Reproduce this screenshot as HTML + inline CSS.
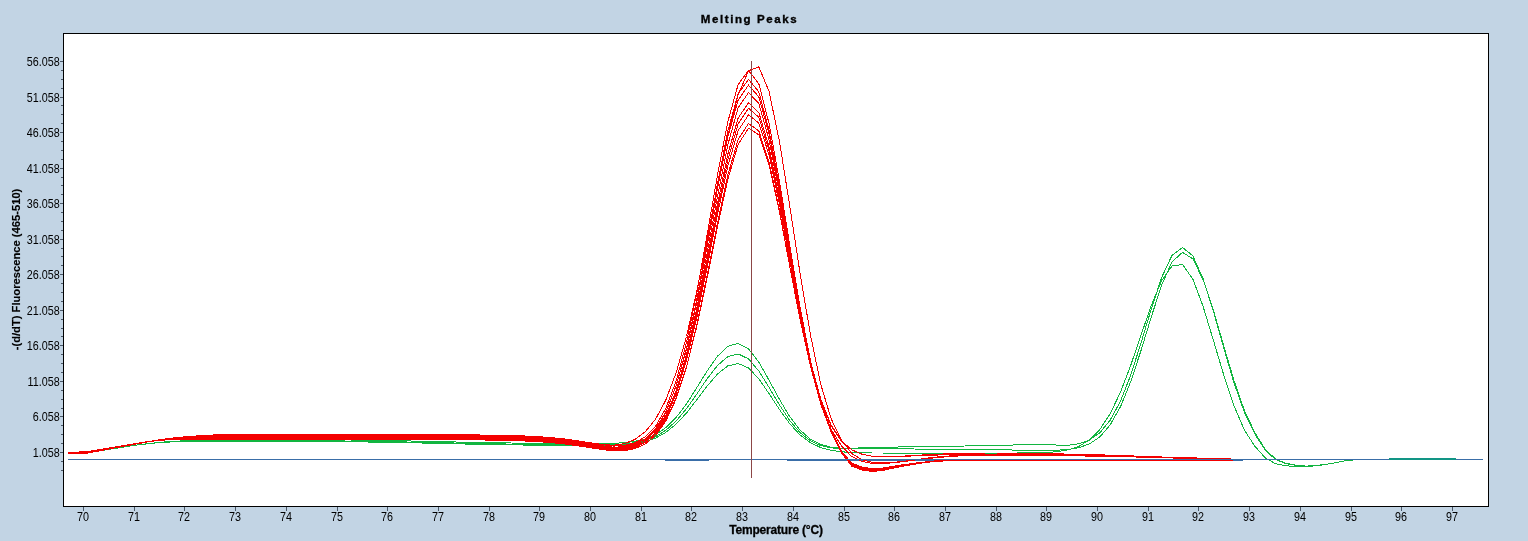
<!DOCTYPE html>
<html><head><meta charset="utf-8"><title>Melting Peaks</title>
<style>
html,body{margin:0;padding:0;background:#c2d4e4;width:1528px;height:541px;overflow:hidden;}
svg{display:block;will-change:transform;}
.t{font-family:"Liberation Sans",Arial,sans-serif;font-size:11px;fill:#000;}
.title{font-family:"Liberation Sans",Arial,sans-serif;font-size:11.5px;font-weight:bold;letter-spacing:1.6px;fill:#000;stroke:#000;stroke-width:0.35px;}
.axt{font-family:"Liberation Sans",Arial,sans-serif;font-size:12px;letter-spacing:-0.2px;font-weight:bold;fill:#000;stroke:#000;stroke-width:0.3px;}
.ayt{font-family:"Liberation Sans",Arial,sans-serif;font-size:11.2px;font-weight:bold;fill:#000;stroke:#000;stroke-width:0.15px;}
</style></head>
<body>
<svg width="1528" height="541" viewBox="0 0 1528 541">
<rect x="63.5" y="33.5" width="1425" height="473" fill="#ffffff" stroke="#000000" stroke-width="1"/>
<g shape-rendering="crispEdges">
<line x1="60" y1="61.5" x2="63" y2="61.5" stroke="#4a5868"/>
<line x1="61" y1="70.5" x2="63" y2="70.5" stroke="#4a5868"/>
<line x1="61" y1="79.5" x2="63" y2="79.5" stroke="#4a5868"/>
<line x1="61" y1="88.5" x2="63" y2="88.5" stroke="#4a5868"/>
<line x1="60" y1="97.5" x2="63" y2="97.5" stroke="#4a5868"/>
<line x1="61" y1="105.5" x2="63" y2="105.5" stroke="#4a5868"/>
<line x1="61" y1="114.5" x2="63" y2="114.5" stroke="#4a5868"/>
<line x1="61" y1="123.5" x2="63" y2="123.5" stroke="#4a5868"/>
<line x1="60" y1="132.5" x2="63" y2="132.5" stroke="#4a5868"/>
<line x1="61" y1="141.5" x2="63" y2="141.5" stroke="#4a5868"/>
<line x1="61" y1="150.5" x2="63" y2="150.5" stroke="#4a5868"/>
<line x1="61" y1="159.5" x2="63" y2="159.5" stroke="#4a5868"/>
<line x1="60" y1="168.5" x2="63" y2="168.5" stroke="#4a5868"/>
<line x1="61" y1="177.5" x2="63" y2="177.5" stroke="#4a5868"/>
<line x1="61" y1="185.5" x2="63" y2="185.5" stroke="#4a5868"/>
<line x1="61" y1="194.5" x2="63" y2="194.5" stroke="#4a5868"/>
<line x1="60" y1="203.5" x2="63" y2="203.5" stroke="#4a5868"/>
<line x1="61" y1="212.5" x2="63" y2="212.5" stroke="#4a5868"/>
<line x1="61" y1="221.5" x2="63" y2="221.5" stroke="#4a5868"/>
<line x1="61" y1="230.5" x2="63" y2="230.5" stroke="#4a5868"/>
<line x1="60" y1="239.5" x2="63" y2="239.5" stroke="#4a5868"/>
<line x1="61" y1="248.5" x2="63" y2="248.5" stroke="#4a5868"/>
<line x1="61" y1="256.5" x2="63" y2="256.5" stroke="#4a5868"/>
<line x1="61" y1="265.5" x2="63" y2="265.5" stroke="#4a5868"/>
<line x1="60" y1="274.5" x2="63" y2="274.5" stroke="#4a5868"/>
<line x1="61" y1="283.5" x2="63" y2="283.5" stroke="#4a5868"/>
<line x1="61" y1="292.5" x2="63" y2="292.5" stroke="#4a5868"/>
<line x1="61" y1="301.5" x2="63" y2="301.5" stroke="#4a5868"/>
<line x1="60" y1="310.5" x2="63" y2="310.5" stroke="#4a5868"/>
<line x1="61" y1="319.5" x2="63" y2="319.5" stroke="#4a5868"/>
<line x1="61" y1="328.5" x2="63" y2="328.5" stroke="#4a5868"/>
<line x1="61" y1="336.5" x2="63" y2="336.5" stroke="#4a5868"/>
<line x1="60" y1="345.5" x2="63" y2="345.5" stroke="#4a5868"/>
<line x1="61" y1="354.5" x2="63" y2="354.5" stroke="#4a5868"/>
<line x1="61" y1="363.5" x2="63" y2="363.5" stroke="#4a5868"/>
<line x1="61" y1="372.5" x2="63" y2="372.5" stroke="#4a5868"/>
<line x1="60" y1="381.5" x2="63" y2="381.5" stroke="#4a5868"/>
<line x1="61" y1="390.5" x2="63" y2="390.5" stroke="#4a5868"/>
<line x1="61" y1="399.5" x2="63" y2="399.5" stroke="#4a5868"/>
<line x1="61" y1="408.5" x2="63" y2="408.5" stroke="#4a5868"/>
<line x1="60" y1="416.5" x2="63" y2="416.5" stroke="#4a5868"/>
<line x1="61" y1="425.5" x2="63" y2="425.5" stroke="#4a5868"/>
<line x1="61" y1="434.5" x2="63" y2="434.5" stroke="#4a5868"/>
<line x1="61" y1="443.5" x2="63" y2="443.5" stroke="#4a5868"/>
<line x1="60" y1="452.5" x2="63" y2="452.5" stroke="#4a5868"/>
<line x1="61" y1="461.5" x2="63" y2="461.5" stroke="#4a5868"/>
<line x1="61" y1="470.5" x2="63" y2="470.5" stroke="#4a5868"/>
<line x1="83.5" y1="507" x2="83.5" y2="511" stroke="#4a5868"/>
<line x1="134.5" y1="507" x2="134.5" y2="511" stroke="#4a5868"/>
<line x1="184.5" y1="507" x2="184.5" y2="511" stroke="#4a5868"/>
<line x1="235.5" y1="507" x2="235.5" y2="511" stroke="#4a5868"/>
<line x1="286.5" y1="507" x2="286.5" y2="511" stroke="#4a5868"/>
<line x1="337.5" y1="507" x2="337.5" y2="511" stroke="#4a5868"/>
<line x1="387.5" y1="507" x2="387.5" y2="511" stroke="#4a5868"/>
<line x1="438.5" y1="507" x2="438.5" y2="511" stroke="#4a5868"/>
<line x1="489.5" y1="507" x2="489.5" y2="511" stroke="#4a5868"/>
<line x1="539.5" y1="507" x2="539.5" y2="511" stroke="#4a5868"/>
<line x1="590.5" y1="507" x2="590.5" y2="511" stroke="#4a5868"/>
<line x1="641.5" y1="507" x2="641.5" y2="511" stroke="#4a5868"/>
<line x1="691.5" y1="507" x2="691.5" y2="511" stroke="#4a5868"/>
<line x1="742.5" y1="507" x2="742.5" y2="511" stroke="#4a5868"/>
<line x1="793.5" y1="507" x2="793.5" y2="511" stroke="#4a5868"/>
<line x1="844.5" y1="507" x2="844.5" y2="511" stroke="#4a5868"/>
<line x1="894.5" y1="507" x2="894.5" y2="511" stroke="#4a5868"/>
<line x1="945.5" y1="507" x2="945.5" y2="511" stroke="#4a5868"/>
<line x1="996.5" y1="507" x2="996.5" y2="511" stroke="#4a5868"/>
<line x1="1046.5" y1="507" x2="1046.5" y2="511" stroke="#4a5868"/>
<line x1="1097.5" y1="507" x2="1097.5" y2="511" stroke="#4a5868"/>
<line x1="1148.5" y1="507" x2="1148.5" y2="511" stroke="#4a5868"/>
<line x1="1198.5" y1="507" x2="1198.5" y2="511" stroke="#4a5868"/>
<line x1="1249.5" y1="507" x2="1249.5" y2="511" stroke="#4a5868"/>
<line x1="1300.5" y1="507" x2="1300.5" y2="511" stroke="#4a5868"/>
<line x1="1351.5" y1="507" x2="1351.5" y2="511" stroke="#4a5868"/>
<line x1="1401.5" y1="507" x2="1401.5" y2="511" stroke="#4a5868"/>
<line x1="1452.5" y1="507" x2="1452.5" y2="511" stroke="#4a5868"/>
</g>
<g shape-rendering="crispEdges" stroke-linejoin="miter">
<line x1="68" y1="459.5" x2="1483" y2="459.5" stroke="#3a6ea8"/>
<line x1="665" y1="460.5" x2="709" y2="460.5" stroke="#3a6ea8"/>
<line x1="787" y1="460.5" x2="1243" y2="460.5" stroke="#3a6ea8"/>
<line x1="1354" y1="459.5" x2="1366" y2="459.5" stroke="#12b540"/>
<rect x="1389" y="458" width="67" height="2" fill="#108a78"/>
<polyline points="67.8,453.0 76.8,452.8 87.1,452.4 97.5,451.1 107.8,449.6 118.1,447.9 128.5,446.3 138.8,444.8 149.1,443.5 159.5,442.4 169.8,441.5 180.1,441.0 190.5,440.5 200.8,440.2 211.1,439.9 221.5,439.7 231.8,439.5 242.1,439.5 252.5,439.5 262.8,439.5 273.1,439.5 283.5,439.5 293.8,439.5 304.1,439.6 314.5,439.6 324.8,439.7 335.1,439.8 345.5,439.9 355.8,440.1 366.1,440.2 376.5,440.4 386.8,440.5 397.1,440.7 407.5,440.9 417.8,441.2 428.1,441.4 438.5,441.6 448.8,441.8 459.1,442.1 469.5,442.3 479.8,442.5 490.1,442.7 500.5,442.9 510.8,443.0 521.1,443.2 531.5,443.3 541.8,443.4 552.1,443.5 562.5,443.6 572.8,443.7 583.1,443.7 593.5,443.7 603.8,443.6 614.1,443.3 624.5,442.7 634.8,441.4 645.1,439.0 655.5,434.7 665.8,427.7 676.1,417.5 686.5,403.9 696.8,387.7 707.1,371.0 717.5,356.2 727.8,346.3 738.1,343.4 748.5,348.8 758.8,362.1 769.1,380.3 779.5,399.5 789.8,416.7 800.1,430.1 810.5,439.2 820.8,444.5 831.1,447.2 841.5,448.3 851.8,448.3 862.1,447.8 872.5,447.5 882.8,447.3 893.1,447.1 903.5,446.9 913.8,446.7 924.1,446.5 934.5,446.4 944.8,446.2 955.1,446.1 965.5,446.0 975.8,445.9 986.1,445.7 996.5,445.5 1006.8,445.2 1017.1,444.9 1027.5,444.6 1037.8,444.4 1048.1,444.7 1058.5,445.1 1068.8,445.2 1079.1,443.7 1089.5,440.0 1099.8,432.8 1110.1,420.3 1120.5,401.2 1130.8,374.9 1141.1,342.7 1151.5,308.3 1161.8,277.1 1172.1,255.2 1182.5,247.4 1192.8,255.8 1203.1,278.8 1213.5,311.6 1223.8,348.1 1234.1,383.1 1244.5,412.5 1254.8,433.9 1265.1,450.0 1275.5,459.5 1285.8,463.5 1296.1,465.5 1306.5,466.2 1316.8,465.5 1327.2,464.1 1337.5,462.4 1347.8,460.3 1358.2,459.7" fill="none" stroke="#12b540" stroke-width="1"/>
<polyline points="67.8,453.0 76.8,452.8 87.1,452.4 97.5,451.1 107.8,449.6 118.1,447.9 128.5,446.3 138.8,444.8 149.1,443.6 159.5,442.5 169.8,441.8 180.1,441.4 190.5,441.1 200.8,440.9 211.1,440.8 221.5,440.6 231.8,440.6 242.1,440.6 252.5,440.6 262.8,440.6 273.1,440.6 283.5,440.6 293.8,440.6 304.1,440.6 314.5,440.7 324.8,440.8 335.1,440.9 345.5,441.0 355.8,441.1 366.1,441.3 376.5,441.4 386.8,441.6 397.1,441.8 407.5,442.0 417.8,442.2 428.1,442.5 438.5,442.7 448.8,442.9 459.1,443.1 469.5,443.4 479.8,443.6 490.1,443.8 500.5,443.9 510.8,444.1 521.1,444.3 531.5,444.4 541.8,444.5 552.1,444.6 562.5,444.7 572.8,444.8 583.1,444.8 593.5,444.8 603.8,444.7 614.1,444.4 624.5,443.9 634.8,442.7 645.1,440.5 655.5,436.6 665.8,430.3 676.1,421.0 686.5,408.7 696.8,394.0 707.1,378.8 717.5,365.5 727.8,356.6 738.1,353.9 748.5,358.9 758.8,371.0 769.1,387.5 779.5,404.9 789.8,420.6 800.1,432.7 810.5,440.9 820.8,445.6 831.1,447.8 841.5,448.8 851.8,448.8 862.1,448.7 872.5,448.7 882.8,448.8 893.1,448.8 903.5,448.9 913.8,449.0 924.1,449.1 934.5,449.2 944.8,449.3 955.1,449.4 965.5,449.5 975.8,449.6 986.1,449.7 996.5,449.8 1006.8,449.9 1017.1,450.1 1027.5,450.2 1037.8,450.3 1048.1,450.3 1058.5,450.1 1068.8,449.4 1079.1,447.6 1089.5,443.9 1099.8,436.9 1110.1,425.0 1120.5,406.7 1130.8,381.4 1141.1,350.2 1151.5,316.2 1161.8,284.7 1172.1,261.7 1182.5,252.4 1192.8,258.8 1203.1,279.7 1213.5,310.8 1223.8,346.1 1234.1,380.9 1244.5,410.8 1254.8,432.6 1265.1,449.2 1275.5,459.0 1285.8,463.3 1296.1,465.3 1306.5,466.1 1316.8,465.5 1327.2,464.1 1337.5,462.4 1347.8,460.3 1358.2,459.7" fill="none" stroke="#12b540" stroke-width="1"/>
<polyline points="67.8,453.0 76.8,452.8 87.1,452.4 97.5,451.1 107.8,449.6 118.1,447.9 128.5,446.3 138.8,444.8 149.1,443.6 159.5,442.6 169.8,442.0 180.1,441.7 190.5,441.5 200.8,441.4 211.1,441.3 221.5,441.3 231.8,441.3 242.1,441.3 252.5,441.3 262.8,441.3 273.1,441.3 283.5,441.3 293.8,441.3 304.1,441.3 314.5,441.4 324.8,441.5 335.1,441.6 345.5,441.7 355.8,441.8 366.1,442.0 376.5,442.1 386.8,442.3 397.1,442.5 407.5,442.7 417.8,442.9 428.1,443.2 438.5,443.4 448.8,443.6 459.1,443.9 469.5,444.1 479.8,444.3 490.1,444.5 500.5,444.7 510.8,444.8 521.1,445.0 531.5,445.1 541.8,445.2 552.1,445.3 562.5,445.4 572.8,445.5 583.1,445.5 593.5,445.5 603.8,445.4 614.1,445.2 624.5,444.7 634.8,443.6 645.1,441.6 655.5,438.1 665.8,432.4 676.1,424.1 686.5,413.0 696.8,399.7 707.1,386.1 717.5,374.0 727.8,365.9 738.1,363.5 748.5,367.9 758.8,378.8 769.1,393.7 779.5,409.6 789.8,423.8 800.1,435.0 810.5,442.7 820.8,447.6 831.1,450.4 841.5,451.8 851.8,452.5 862.1,452.8 872.5,453.0 882.8,453.0 893.1,453.0 903.5,453.0 913.8,453.0 924.1,453.0 934.5,453.0 944.8,453.0 955.1,453.0 965.5,453.0 975.8,453.0 986.1,453.0 996.5,453.0 1006.8,453.0 1017.1,453.0 1027.5,452.9 1037.8,452.8 1048.1,452.4 1058.5,451.5 1068.8,449.7 1079.1,446.2 1089.5,439.9 1099.8,429.6 1110.1,413.8 1120.5,392.2 1130.8,365.1 1141.1,334.8 1151.5,304.9 1161.8,280.4 1172.1,265.9 1182.5,264.5 1192.8,279.0 1203.1,306.4 1213.5,340.7 1223.8,375.2 1234.1,406.1 1244.5,430.3 1254.8,446.2 1265.1,457.7 1275.5,463.8 1285.8,465.8 1296.1,466.5 1306.5,466.6 1316.8,465.7 1327.2,464.2 1337.5,462.4 1347.8,460.3 1358.2,459.7" fill="none" stroke="#12b540" stroke-width="1"/>
<polyline points="67.8,452.3 76.8,452.1 87.1,451.7 97.5,450.0 107.8,448.3 118.1,446.5 128.5,444.8 138.8,443.1 149.1,441.4 159.5,439.8 169.8,438.6 180.1,437.6 190.5,436.8 200.8,436.2 211.1,435.7 221.5,435.4 231.8,435.1 242.1,435.0 252.5,435.0 262.8,434.9 273.1,434.9 283.5,434.9 293.8,434.9 304.1,434.9 314.5,434.9 324.8,434.9 335.1,434.9 345.5,434.9 355.8,434.9 366.1,435.0 376.5,435.0 386.8,435.1 397.1,435.1 407.5,435.2 417.8,435.2 428.1,435.3 438.5,435.4 448.8,435.4 459.1,435.5 469.5,435.6 479.8,435.7 490.1,435.8 500.5,436.0 510.8,436.2 521.1,436.6 531.5,437.0 541.8,437.6 552.1,438.4 562.5,439.4 572.8,440.8 583.1,442.2 593.5,443.6 603.8,444.7 614.1,445.2 624.5,443.6 634.8,439.5 645.1,431.9 655.5,419.3 665.8,400.1 676.1,372.8 686.5,336.5 696.8,291.3 707.1,239.7 717.5,185.7 727.8,135.3 738.1,95.0 748.5,70.8 758.8,66.9 769.1,91.6 779.5,141.7 789.8,206.2 800.1,273.6 810.5,335.1 820.8,384.5 831.1,418.7 841.5,440.2 851.8,453.5 862.1,459.8 872.5,462.5 882.8,462.9 893.1,462.4 903.5,461.3 913.8,459.9 924.1,458.6 934.5,457.2 944.8,456.3 955.1,455.5 965.5,454.9 975.8,454.7 986.1,454.6 996.5,454.5 1006.8,454.4 1017.1,454.4 1027.5,454.4 1037.8,454.5 1048.1,454.6 1058.5,454.8 1068.8,454.9 1079.1,455.1 1089.5,455.3 1099.8,455.5 1110.1,455.8 1120.5,456.0 1130.8,456.3 1141.1,456.6 1151.5,456.9 1161.8,457.1 1172.1,457.4 1182.5,457.7 1192.8,457.9 1203.1,458.2 1213.5,458.5 1223.8,458.8 1234.1,459.1 1244.5,459.3" fill="none" stroke="#f40000" stroke-width="1"/>
<polyline points="67.8,452.6 76.8,452.5 87.1,452.0 97.5,450.3 107.8,448.5 118.1,446.7 128.5,445.0 138.8,443.2 149.1,441.5 159.5,439.8 169.8,438.5 180.1,437.5 190.5,436.6 200.8,435.9 211.1,435.4 221.5,435.0 231.8,434.8 242.1,434.7 252.5,434.6 262.8,434.6 273.1,434.5 283.5,434.5 293.8,434.5 304.1,434.5 314.5,434.5 324.8,434.5 335.1,434.5 345.5,434.5 355.8,434.6 366.1,434.6 376.5,434.7 386.8,434.7 397.1,434.8 407.5,434.8 417.8,434.9 428.1,434.9 438.5,435.0 448.8,435.1 459.1,435.2 469.5,435.2 479.8,435.3 490.1,435.5 500.5,435.6 510.8,435.9 521.1,436.2 531.5,436.7 541.8,437.3 552.1,438.0 562.5,439.0 572.8,440.5 583.1,442.0 593.5,443.6 603.8,444.9 614.1,446.1 624.5,445.4 634.8,442.7 645.1,437.0 655.5,426.3 665.8,408.4 676.1,381.1 686.5,342.5 696.8,292.8 707.1,234.9 717.5,175.0 727.8,121.8 738.1,84.6 748.5,70.4 758.8,83.7 769.1,123.7 779.5,181.4 789.8,245.7 800.1,307.4 810.5,360.7 820.8,401.7 831.1,430.8 841.5,452.8 851.8,466.1 862.1,470.0 872.5,471.5 882.8,470.4 893.1,468.2 903.5,466.1 913.8,464.3 924.1,462.7 934.5,461.3 944.8,460.6 955.1,460.2 965.5,460.1 975.8,460.2 986.1,460.3 996.5,460.3 1006.8,460.3 1017.1,460.3 1027.5,460.3 1037.8,460.3 1048.1,460.3 1058.5,460.3 1068.8,460.3 1079.1,460.3 1089.5,460.3 1099.8,460.3 1110.1,460.3 1120.5,460.3 1130.8,460.3 1141.1,460.2 1151.5,460.2 1161.8,460.2 1172.1,460.2 1182.5,460.2 1192.8,460.2 1203.1,460.2 1213.5,460.1 1223.8,460.1 1234.1,460.0" fill="none" stroke="#f40000" stroke-width="1"/>
<polyline points="67.8,453.7 76.8,453.5 87.1,453.1 97.5,451.2 107.8,449.2 118.1,447.3 128.5,445.4 138.8,443.4 149.1,441.7 159.5,440.2 169.8,439.2 180.1,438.6 190.5,438.2 200.8,437.9 211.1,437.7 221.5,437.6 231.8,437.6 242.1,437.5 252.5,437.5 262.8,437.4 273.1,437.4 283.5,437.4 293.8,437.4 304.1,437.4 314.5,437.4 324.8,437.4 335.1,437.4 345.5,437.4 355.8,437.4 366.1,437.5 376.5,437.5 386.8,437.6 397.1,437.6 407.5,437.7 417.8,437.7 428.1,437.8 438.5,437.9 448.8,437.9 459.1,438.0 469.5,438.1 479.8,438.2 490.1,438.3 500.5,438.5 510.8,438.7 521.1,439.0 531.5,439.5 541.8,440.1 552.1,440.9 562.5,441.9 572.8,443.3 583.1,444.8 593.5,446.4 603.8,447.8 614.1,449.0 624.5,448.4 634.8,445.8 645.1,440.2 655.5,429.8 665.8,412.4 676.1,385.8 686.5,348.1 696.8,299.4 707.1,242.6 717.5,183.7 727.8,131.1 738.1,93.9 748.5,79.4 758.8,91.8 769.1,130.6 779.5,187.1 789.8,250.3 800.1,310.3 810.5,360.8 820.8,401.7 831.1,430.6 841.5,451.6 851.8,464.1 862.1,468.0 872.5,469.5 882.8,468.8 893.1,466.9 903.5,465.2 913.8,463.6 924.1,462.3 934.5,461.1 944.8,460.5 955.1,460.1 965.5,460.1 975.8,460.1 986.1,460.2 996.5,460.2 1006.8,460.2 1017.1,460.2 1027.5,460.2 1037.8,460.2 1048.1,460.2 1058.5,460.2 1068.8,460.2 1079.1,460.2 1089.5,460.2 1099.8,460.2 1110.1,460.2 1120.5,460.2 1130.8,460.2 1141.1,460.2 1151.5,460.2 1161.8,460.2 1172.1,460.1 1182.5,460.1 1192.8,460.1 1203.1,460.1 1213.5,460.1 1223.8,460.0" fill="none" stroke="#f40000" stroke-width="1"/>
<polyline points="67.8,453.0 76.8,452.8 87.1,452.4 97.5,450.6 107.8,448.8 118.1,446.9 128.5,445.1 138.8,443.3 149.1,441.5 159.5,439.9 169.8,438.8 180.1,437.9 190.5,437.2 200.8,436.7 211.1,436.3 221.5,436.0 231.8,435.8 242.1,435.7 252.5,435.7 262.8,435.6 273.1,435.6 283.5,435.6 293.8,435.6 304.1,435.6 314.5,435.6 324.8,435.6 335.1,435.6 345.5,435.6 355.8,435.6 366.1,435.7 376.5,435.7 386.8,435.8 397.1,435.8 407.5,435.9 417.8,435.9 428.1,436.0 438.5,436.1 448.8,436.1 459.1,436.2 469.5,436.3 479.8,436.4 490.1,436.5 500.5,436.7 510.8,437.0 521.1,437.3 531.5,437.7 541.8,438.3 552.1,439.1 562.5,440.1 572.8,441.5 583.1,443.1 593.5,444.6 603.8,446.0 614.1,447.2 624.5,446.7 634.8,444.2 645.1,438.8 655.5,428.7 665.8,411.9 676.1,386.1 686.5,349.5 696.8,302.0 707.1,246.5 717.5,188.7 727.8,137.0 738.1,100.1 748.5,85.2 758.8,96.8 769.1,134.1 779.5,189.2 789.8,251.1 800.1,310.6 810.5,361.3 820.8,399.4 831.1,425.1 841.5,440.9 851.8,449.8 862.1,454.3 872.5,456.3 882.8,456.8 893.1,456.6 903.5,456.1 913.8,455.5 924.1,454.9 934.5,454.4 944.8,453.9 955.1,453.5 965.5,453.3 975.8,453.1 986.1,453.0 996.5,453.0 1006.8,453.0 1017.1,453.2 1027.5,453.4 1037.8,453.5 1048.1,453.7 1058.5,453.9 1068.8,454.1 1079.1,454.3 1089.5,454.6 1099.8,454.8 1110.1,455.2 1120.5,455.5 1130.8,455.9 1141.1,456.3 1151.5,456.7 1161.8,457.0 1172.1,457.4 1182.5,457.8 1192.8,458.2 1203.1,458.4 1213.5,458.7 1223.8,458.9 1234.1,459.2 1244.5,459.3" fill="none" stroke="#f40000" stroke-width="1"/>
<polyline points="67.8,452.3 76.8,452.1 87.1,451.7 97.5,450.0 107.8,448.3 118.1,446.5 128.5,444.8 138.8,443.0 149.1,441.5 159.5,440.3 169.8,439.6 180.1,439.2 190.5,439.0 200.8,438.9 211.1,438.9 221.5,438.9 231.8,439.0 242.1,439.0 252.5,438.9 262.8,438.9 273.1,438.8 283.5,438.8 293.8,438.8 304.1,438.8 314.5,438.8 324.8,438.8 335.1,438.8 345.5,438.8 355.8,438.8 366.1,438.9 376.5,438.9 386.8,439.0 397.1,439.0 407.5,439.1 417.8,439.1 428.1,439.2 438.5,439.3 448.8,439.3 459.1,439.4 469.5,439.5 479.8,439.6 490.1,439.7 500.5,439.9 510.8,440.2 521.1,440.5 531.5,440.9 541.8,441.5 552.1,442.3 562.5,443.3 572.8,444.7 583.1,446.3 593.5,447.8 603.8,449.3 614.1,450.5 624.5,449.9 634.8,447.5 645.1,442.3 655.5,432.5 665.8,416.0 676.1,390.7 686.5,354.8 696.8,308.1 707.1,253.4 717.5,196.2 727.8,144.8 738.1,107.9 748.5,92.6 758.8,103.4 769.1,139.9 779.5,194.0 789.8,255.1 800.1,313.1 810.5,361.5 820.8,401.9 831.1,430.7 841.5,452.2 851.8,465.1 862.1,469.0 872.5,470.5 882.8,469.6 893.1,467.6 903.5,465.7 913.8,464.1 924.1,462.7 934.5,461.5 944.8,460.9 955.1,460.5 965.5,460.4 975.8,460.5 986.1,460.6 996.5,460.6 1006.8,460.6 1017.1,460.6 1027.5,460.6 1037.8,460.6 1048.1,460.6 1058.5,460.6 1068.8,460.6 1079.1,460.6 1089.5,460.5 1099.8,460.5 1110.1,460.5 1120.5,460.5 1130.8,460.5 1141.1,460.4 1151.5,460.4 1161.8,460.4 1172.1,460.4 1182.5,460.3 1192.8,460.3 1203.1,460.2 1213.5,460.2 1223.8,460.1 1234.1,460.0" fill="none" stroke="#f40000" stroke-width="1"/>
<polyline points="67.8,453.3 76.8,453.2 87.1,452.7 97.5,450.9 107.8,449.0 118.1,447.1 128.5,445.2 138.8,443.3 149.1,441.6 159.5,440.0 169.8,438.9 180.1,438.2 190.5,437.6 200.8,437.1 211.1,436.8 221.5,436.7 231.8,436.5 242.1,436.5 252.5,436.4 262.8,436.3 273.1,436.3 283.5,436.3 293.8,436.3 304.1,436.3 314.5,436.3 324.8,436.3 335.1,436.3 345.5,436.3 355.8,436.3 366.1,436.4 376.5,436.4 386.8,436.5 397.1,436.5 407.5,436.6 417.8,436.7 428.1,436.7 438.5,436.8 448.8,436.9 459.1,436.9 469.5,437.0 479.8,437.1 490.1,437.2 500.5,437.4 510.8,437.7 521.1,438.0 531.5,438.4 541.8,439.0 552.1,439.8 562.5,440.8 572.8,442.2 583.1,443.8 593.5,445.4 603.8,446.8 614.1,448.0 624.5,447.6 634.8,445.3 645.1,440.4 655.5,431.0 665.8,415.2 676.1,391.1 686.5,356.7 696.8,311.9 707.1,259.2 717.5,204.0 727.8,154.2 738.1,118.1 748.5,102.8 758.8,112.5 769.1,147.1 779.5,199.0 789.8,258.0 800.1,314.9 810.5,363.9 820.8,403.3 831.1,431.1 841.5,451.2 851.8,463.2 862.1,467.1 872.5,468.6 882.8,468.0 893.1,466.3 903.5,464.7 913.8,463.3 924.1,462.1 934.5,461.0 944.8,460.4 955.1,460.1 965.5,460.0 975.8,460.1 986.1,460.2 996.5,460.2 1006.8,460.2 1017.1,460.2 1027.5,460.2 1037.8,460.2 1048.1,460.2 1058.5,460.2 1068.8,460.2 1079.1,460.2 1089.5,460.2 1099.8,460.2 1110.1,460.2 1120.5,460.2 1130.8,460.1 1141.1,460.1 1151.5,460.1 1161.8,460.1 1172.1,460.1 1182.5,460.1 1192.8,460.1 1203.1,460.1 1213.5,460.0 1223.8,460.0 1234.1,459.9 1244.5,459.9" fill="none" stroke="#f40000" stroke-width="1"/>
<polyline points="67.8,453.0 76.8,452.8 87.1,452.4 97.5,450.6 107.8,448.8 118.1,446.9 128.5,445.1 138.8,443.2 149.1,441.6 159.5,440.3 169.8,439.4 180.1,438.9 190.5,438.6 200.8,438.4 211.1,438.3 221.5,438.3 231.8,438.3 242.1,438.3 252.5,438.2 262.8,438.2 273.1,438.1 283.5,438.1 293.8,438.1 304.1,438.1 314.5,438.1 324.8,438.1 335.1,438.1 345.5,438.1 355.8,438.1 366.1,438.2 376.5,438.2 386.8,438.3 397.1,438.3 407.5,438.4 417.8,438.4 428.1,438.5 438.5,438.6 448.8,438.6 459.1,438.7 469.5,438.8 479.8,438.9 490.1,439.0 500.5,439.2 510.8,439.4 521.1,439.8 531.5,440.2 541.8,440.8 552.1,441.6 562.5,442.6 572.8,444.0 583.1,445.6 593.5,447.1 603.8,448.6 614.1,449.8 624.5,449.4 634.8,447.2 645.1,442.4 655.5,433.2 665.8,417.8 676.1,394.2 686.5,360.3 696.8,316.2 707.1,264.2 717.5,209.6 727.8,160.0 738.1,123.9 748.5,108.2 758.8,117.2 769.1,150.9 779.5,202.0 789.8,260.3 800.1,316.3 810.5,363.6 820.8,402.8 831.1,429.4 841.5,446.0 851.8,456.6 862.1,461.4 872.5,463.4 882.8,463.5 893.1,462.8 903.5,461.6 913.8,460.2 924.1,459.0 934.5,457.8 944.8,456.9 955.1,456.2 965.5,455.6 975.8,455.4 986.1,455.3 996.5,455.2 1006.8,455.2 1017.1,455.1 1027.5,455.1 1037.8,455.2 1048.1,455.3 1058.5,455.5 1068.8,455.7 1079.1,455.9 1089.5,456.1 1099.8,456.2 1110.1,456.4 1120.5,456.6 1130.8,456.9 1141.1,457.1 1151.5,457.3 1161.8,457.5 1172.1,457.8 1182.5,458.0 1192.8,458.2 1203.1,458.4 1213.5,458.7 1223.8,458.9" fill="none" stroke="#f40000" stroke-width="1"/>
<polyline points="67.8,453.7 76.8,453.5 87.1,453.1 97.5,451.2 107.8,449.2 118.1,447.3 128.5,445.4 138.8,443.5 149.1,441.6 159.5,439.7 169.8,438.4 180.1,437.3 190.5,436.4 200.8,435.7 211.1,435.1 221.5,434.7 231.8,434.4 242.1,434.3 252.5,434.3 262.8,434.2 273.1,434.2 283.5,434.2 293.8,434.2 304.1,434.2 314.5,434.2 324.8,434.2 335.1,434.2 345.5,434.2 355.8,434.2 366.1,434.3 376.5,434.3 386.8,434.4 397.1,434.4 407.5,434.5 417.8,434.5 428.1,434.6 438.5,434.7 448.8,434.7 459.1,434.8 469.5,434.9 479.8,435.0 490.1,435.1 500.5,435.3 510.8,435.5 521.1,435.8 531.5,436.3 541.8,436.9 552.1,437.7 562.5,438.7 572.8,440.1 583.1,441.7 593.5,443.2 603.8,444.7 614.1,445.9 624.5,445.6 634.8,443.5 645.1,438.9 655.5,430.1 665.8,415.4 676.1,392.7 686.5,360.1 696.8,317.6 707.1,267.4 717.5,214.4 727.8,166.1 738.1,130.7 748.5,114.9 758.8,123.0 769.1,155.1 779.5,204.4 789.8,260.9 800.1,316.4 810.5,365.7 820.8,404.1 831.1,431.7 841.5,452.9 851.8,465.8 862.1,469.6 872.5,471.1 882.8,470.1 893.1,467.9 903.5,465.9 913.8,464.0 924.1,462.4 934.5,461.0 944.8,460.2 955.1,459.8 965.5,459.7 975.8,459.8 986.1,459.9 996.5,459.9 1006.8,460.0 1017.1,460.0 1027.5,460.0 1037.8,460.0 1048.1,460.0 1058.5,460.0 1068.8,460.0 1079.1,460.0 1089.5,460.0 1099.8,460.0 1110.1,460.0 1120.5,460.0 1130.8,460.0 1141.1,460.0 1151.5,460.0 1161.8,460.0 1172.1,460.0 1182.5,460.0 1192.8,460.0 1203.1,460.0 1213.5,460.0 1223.8,460.0 1234.1,459.9 1244.5,459.9" fill="none" stroke="#f40000" stroke-width="1"/>
<polyline points="67.8,452.6 76.8,452.5 87.1,452.0 97.5,450.3 107.8,448.5 118.1,446.7 128.5,444.9 138.8,443.1 149.1,441.6 159.5,440.4 169.8,439.7 180.1,439.3 190.5,439.2 200.8,439.1 211.1,439.1 221.5,439.2 231.8,439.3 242.1,439.3 252.5,439.3 262.8,439.2 273.1,439.2 283.5,439.1 293.8,439.1 304.1,439.1 314.5,439.1 324.8,439.1 335.1,439.1 345.5,439.1 355.8,439.2 366.1,439.2 376.5,439.3 386.8,439.3 397.1,439.4 407.5,439.4 417.8,439.5 428.1,439.6 438.5,439.6 448.8,439.7 459.1,439.8 469.5,439.9 479.8,439.9 490.1,440.1 500.5,440.3 510.8,440.5 521.1,440.8 531.5,441.3 541.8,441.9 552.1,442.7 562.5,443.7 572.8,445.1 583.1,446.6 593.5,448.2 603.8,449.7 614.1,450.9 624.5,450.6 634.8,448.6 645.1,444.1 655.5,435.5 665.8,421.1 676.1,398.9 686.5,366.9 696.8,325.1 707.1,275.5 717.5,223.1 727.8,175.1 738.1,139.6 748.5,123.5 758.8,130.9 769.1,162.3 779.5,210.7 789.8,266.5 800.1,319.9 810.5,364.7 820.8,400.9 831.1,425.8 841.5,441.1 851.8,449.8 862.1,454.3 872.5,456.3 882.8,456.7 893.1,456.6 903.5,456.3 913.8,455.9 924.1,455.5 934.5,455.1 944.8,454.8 955.1,454.5 965.5,454.3 975.8,454.2 986.1,454.1 996.5,454.1 1006.8,454.1 1017.1,454.2 1027.5,454.4 1037.8,454.6 1048.1,454.8 1058.5,455.0 1068.8,455.2 1079.1,455.4 1089.5,455.6 1099.8,455.9 1110.1,456.2 1120.5,456.5 1130.8,456.8 1141.1,457.1 1151.5,457.4 1161.8,457.7 1172.1,458.0 1182.5,458.3 1192.8,458.6 1203.1,458.8 1213.5,458.9 1223.8,459.1 1234.1,459.2" fill="none" stroke="#f40000" stroke-width="1"/>
<polyline points="67.8,453.0 76.8,452.8 87.1,452.4 97.5,450.6 107.8,448.8 118.1,446.9 128.5,445.1 138.8,443.2 149.1,441.6 159.5,440.1 169.8,439.0 180.1,438.3 190.5,437.8 200.8,437.4 211.1,437.1 221.5,437.0 231.8,436.9 242.1,436.8 252.5,436.8 262.8,436.7 273.1,436.7 283.5,436.6 293.8,436.6 304.1,436.6 314.5,436.6 324.8,436.6 335.1,436.6 345.5,436.7 355.8,436.7 366.1,436.7 376.5,436.8 386.8,436.9 397.1,436.9 407.5,437.0 417.8,437.0 428.1,437.1 438.5,437.1 448.8,437.2 459.1,437.3 469.5,437.4 479.8,437.5 490.1,437.6 500.5,437.8 510.8,438.0 521.1,438.3 531.5,438.8 541.8,439.4 552.1,440.2 562.5,441.2 572.8,442.6 583.1,444.1 593.5,445.7 603.8,447.2 614.1,448.5 624.5,448.2 634.8,446.3 645.1,442.0 655.5,433.7 665.8,419.7 676.1,398.2 686.5,367.1 696.8,326.4 707.1,278.0 717.5,226.7 727.8,179.5 738.1,144.5 748.5,128.2 758.8,134.8 769.1,164.9 779.5,212.0 789.8,266.6 800.1,319.9 810.5,366.3 820.8,404.3 831.1,431.6 841.5,452.1 851.8,464.5 862.1,468.4 872.5,469.9 882.8,469.1 893.1,467.1 903.5,465.4 913.8,463.7 924.1,462.4 934.5,461.1 944.8,460.5 955.1,460.1 965.5,460.1 975.8,460.1 986.1,460.2 996.5,460.3 1006.8,460.3 1017.1,460.2 1027.5,460.2 1037.8,460.2 1048.1,460.2 1058.5,460.2 1068.8,460.2 1079.1,460.2 1089.5,460.2 1099.8,460.2 1110.1,460.2 1120.5,460.2 1130.8,460.2 1141.1,460.2 1151.5,460.2 1161.8,460.2 1172.1,460.2 1182.5,460.1 1192.8,460.1 1203.1,460.1 1213.5,460.1 1223.8,460.0 1234.1,460.0 1244.5,459.9" fill="none" stroke="#f40000" stroke-width="1"/>
<line x1="68" y1="459.5" x2="1483" y2="459.5" stroke="#3a6ea8"/>
<rect x="1389" y="458" width="67" height="2" fill="#129585"/>
<line x1="751.5" y1="61" x2="751.5" y2="478" stroke="#8c4646"/>
</g>
<g>
<text transform="translate(59.7,65.8) scale(0.98,1.1)" text-anchor="end" class="t">56.058</text>
<text transform="translate(59.7,101.8) scale(0.98,1.1)" text-anchor="end" class="t">51.058</text>
<text transform="translate(59.7,136.8) scale(0.98,1.1)" text-anchor="end" class="t">46.058</text>
<text transform="translate(59.7,172.8) scale(0.98,1.1)" text-anchor="end" class="t">41.058</text>
<text transform="translate(59.7,207.8) scale(0.98,1.1)" text-anchor="end" class="t">36.058</text>
<text transform="translate(59.7,243.8) scale(0.98,1.1)" text-anchor="end" class="t">31.058</text>
<text transform="translate(59.7,278.8) scale(0.98,1.1)" text-anchor="end" class="t">26.058</text>
<text transform="translate(59.7,314.8) scale(0.98,1.1)" text-anchor="end" class="t">21.058</text>
<text transform="translate(59.7,349.8) scale(0.98,1.1)" text-anchor="end" class="t">16.058</text>
<text transform="translate(59.7,385.8) scale(0.98,1.1)" text-anchor="end" class="t">11.058</text>
<text transform="translate(59.7,420.8) scale(0.98,1.1)" text-anchor="end" class="t">6.058</text>
<text transform="translate(59.7,456.8) scale(0.98,1.1)" text-anchor="end" class="t">1.058</text>
<text transform="translate(83.1,520.8) scale(0.98,1.1)" text-anchor="middle" class="t">70</text>
<text transform="translate(134.1,520.8) scale(0.98,1.1)" text-anchor="middle" class="t">71</text>
<text transform="translate(184.1,520.8) scale(0.98,1.1)" text-anchor="middle" class="t">72</text>
<text transform="translate(235.1,520.8) scale(0.98,1.1)" text-anchor="middle" class="t">73</text>
<text transform="translate(286.1,520.8) scale(0.98,1.1)" text-anchor="middle" class="t">74</text>
<text transform="translate(337.1,520.8) scale(0.98,1.1)" text-anchor="middle" class="t">75</text>
<text transform="translate(387.1,520.8) scale(0.98,1.1)" text-anchor="middle" class="t">76</text>
<text transform="translate(438.1,520.8) scale(0.98,1.1)" text-anchor="middle" class="t">77</text>
<text transform="translate(489.1,520.8) scale(0.98,1.1)" text-anchor="middle" class="t">78</text>
<text transform="translate(539.1,520.8) scale(0.98,1.1)" text-anchor="middle" class="t">79</text>
<text transform="translate(590.1,520.8) scale(0.98,1.1)" text-anchor="middle" class="t">80</text>
<text transform="translate(641.1,520.8) scale(0.98,1.1)" text-anchor="middle" class="t">81</text>
<text transform="translate(691.1,520.8) scale(0.98,1.1)" text-anchor="middle" class="t">82</text>
<text transform="translate(742.1,520.8) scale(0.98,1.1)" text-anchor="middle" class="t">83</text>
<text transform="translate(793.1,520.8) scale(0.98,1.1)" text-anchor="middle" class="t">84</text>
<text transform="translate(844.1,520.8) scale(0.98,1.1)" text-anchor="middle" class="t">85</text>
<text transform="translate(894.1,520.8) scale(0.98,1.1)" text-anchor="middle" class="t">86</text>
<text transform="translate(945.1,520.8) scale(0.98,1.1)" text-anchor="middle" class="t">87</text>
<text transform="translate(996.1,520.8) scale(0.98,1.1)" text-anchor="middle" class="t">88</text>
<text transform="translate(1046.1,520.8) scale(0.98,1.1)" text-anchor="middle" class="t">89</text>
<text transform="translate(1097.1,520.8) scale(0.98,1.1)" text-anchor="middle" class="t">90</text>
<text transform="translate(1148.1,520.8) scale(0.98,1.1)" text-anchor="middle" class="t">91</text>
<text transform="translate(1198.1,520.8) scale(0.98,1.1)" text-anchor="middle" class="t">92</text>
<text transform="translate(1249.1,520.8) scale(0.98,1.1)" text-anchor="middle" class="t">93</text>
<text transform="translate(1300.1,520.8) scale(0.98,1.1)" text-anchor="middle" class="t">94</text>
<text transform="translate(1351.1,520.8) scale(0.98,1.1)" text-anchor="middle" class="t">95</text>
<text transform="translate(1401.1,520.8) scale(0.98,1.1)" text-anchor="middle" class="t">96</text>
<text transform="translate(1452.1,520.8) scale(0.98,1.1)" text-anchor="middle" class="t">97</text>
<text x="749.5" y="23" text-anchor="middle" class="title">Melting Peaks</text>
<text x="776" y="533.6" text-anchor="middle" class="axt">Temperature (°C)</text>
<text transform="translate(19.5,269.5) rotate(-90)" text-anchor="middle" class="ayt">-(d/dT) Fluorescence (465-510)</text>
</g>
</svg>
</body></html>
